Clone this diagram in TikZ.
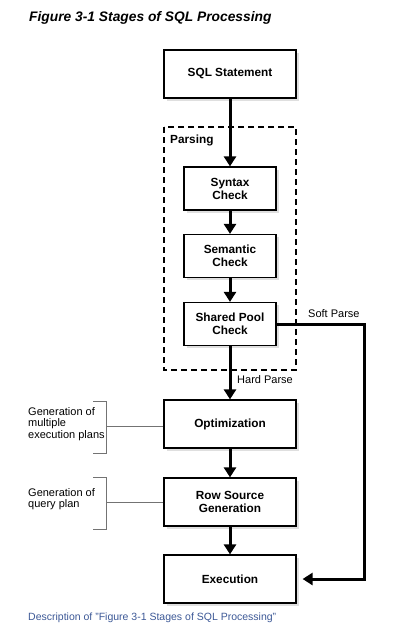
\documentclass[tikz,border=0pt]{standalone}
\usepackage{fontspec}
\setmainfont{Liberation Sans}
\usepackage{tikz}
\usetikzlibrary{arrows.meta,shadows,positioning}
\definecolor{linkblue}{RGB}{60,88,150}

\begin{document}
\begin{tikzpicture}[x=1pt,y=-1pt,
  stage/.style={draw,line width=1.2pt,fill=white,align=center,inner sep=0pt,
    font=\bfseries\fontsize{11.8}{13}\selectfont,
    drop shadow={shadow xshift=2.5pt,shadow yshift=-2.5pt,fill=black!25}},
  bigstage/.style={stage,minimum width=132pt,minimum height=48pt},
  smallstage/.style={stage,minimum width=92pt,minimum height=43pt},
  flow/.style={line width=3pt,-{Triangle[width=12pt,length=10pt]}},
  bracket/.style={draw=black!55,line width=0.8pt},
  note/.style={font=\fontsize{11}{11.7}\selectfont,align=left,anchor=north west,inner sep=0pt}]

  \useasboundingbox (0,0) rectangle (411,641);

  % Title
  \node[anchor=west,inner sep=0pt,font=\bfseries\itshape\fontsize{13.8}{15}\selectfont] (title) at (29,18) {Figure 3-1 Stages of SQL Processing};

  % Parsing frame
  \draw[line width=1.2pt,dash pattern=on 6pt off 4pt] (164,127) rectangle (296,370);
  \node[anchor=west,inner sep=0pt,font=\bfseries\fontsize{11.8}{13}\selectfont] (parsing) at (170,140) {Parsing};

  % Nodes
  \node[bigstage] (sql) at (230,74) {SQL Statement};
  \node[smallstage] (syntax) at (230,188.5) {Syntax\\Check};
  \node[smallstage] (semantic) at (230,256) {Semantic\\Check};
  \node[smallstage] (shared) at (230,324) {Shared Pool\\Check};
  \node[bigstage] (optim) at (230,424) {Optimization};
  \node[bigstage] (rowsource) at (230,502) {Row Source\\Generation};
  \node[bigstage] (execution) at (230,579) {Execution};

  % Flow
  \draw[flow] (sql.south) -- (syntax.north);
  \draw[flow] (syntax) -- (semantic);
  \draw[flow] (semantic) -- (shared);
  \draw[flow] (shared.south) -- (optim.north);
  \draw[flow] (optim) -- (rowsource);
  \draw[flow] (rowsource) -- (execution);
  \coordinate (softcorner) at (364,324);
  \draw[flow,shorten >=6pt] (shared.east) -- (softcorner) |- (execution.east);

  \node[font=\fontsize{11}{12}\selectfont,anchor=west,inner sep=0pt] (softlabel) at (308,314) {Soft Parse};
  \node[font=\fontsize{11}{12}\selectfont,anchor=west,inner sep=0pt] (hardlabel) at (237,380) {Hard Parse};

  % Side notes
  \node[note] (optnote) at (28,407) {Generation of\\multiple\\execution plans};
  \draw[bracket] (93,401) -- (106,401) -- (106,453) -- (93,453);
  \coordinate (optbrace) at (106,426);
  \draw[bracket] (optbrace) -- (optbrace -| optim.west);

  \node[note] (rownote) at (28,488) {Generation of\\query plan};
  \draw[bracket] (93,477) -- (106,477) -- (106,529) -- (93,529);
  \coordinate (rowbrace) at (106,502);
  \draw[bracket] (rowbrace) -- (rowbrace -| rowsource.west);

  % Caption link
  \node[anchor=west,inner sep=0pt,text=linkblue,font=\fontsize{10.5}{12}\selectfont] (desc) at (28,618) {Description of "Figure 3-1 Stages of SQL Processing"};
\end{tikzpicture}
\end{document}
